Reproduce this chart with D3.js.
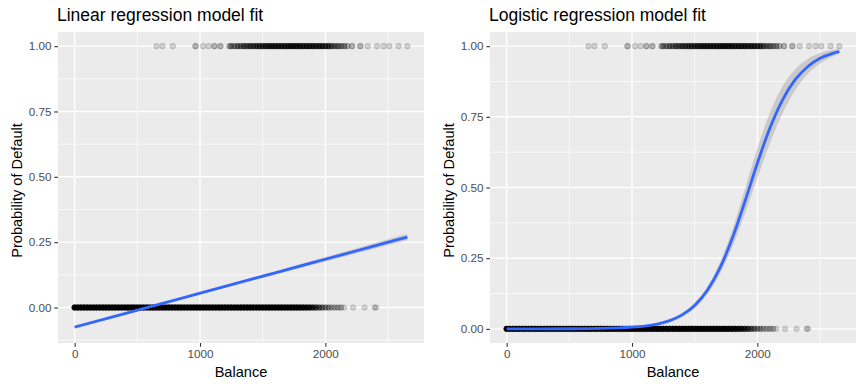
<!DOCTYPE html>
<html>
<head>
<meta charset="utf-8">
<script src="https://cdn.jsdelivr.net/npm/d3@7"></script>
<style>
  body { margin: 0; background: #fff; }
  svg text { font-family: "Liberation Sans", Arial, sans-serif; }
</style>
</head>
<body>
<div id="chart"></div>
<script>
// Data

// customers who defaulted (row at 1) - balance and how many observations sit on that spot
let default_balance = [653, 701, 783, 964, 1025, 1070, 1115, 1163, 1235,
    1250, 1275, 1300, 1325, 1350, 1375, 1400, 1425, 1450, 1475, 1500, 1525, 1550, 1575,
    1600, 1625, 1650, 1675, 1700, 1725, 1750, 1775, 1800, 1825, 1850, 1875, 1900, 1925,
    1950, 1975, 2000, 2025, 2050, 2075, 2100, 2125, 2150, 2175,
    2213, 2279, 2337, 2412, 2465, 2510, 2584, 2654];
let default_count = [1, 1, 1, 2, 1, 1, 2, 2, 2,
    3, 3, 4, 4, 5, 5, 6, 6, 7, 7, 7, 8, 8, 9,
    9, 9, 9, 9, 10, 10, 10, 10, 10, 9, 9, 9, 9, 8,
    8, 8, 7, 7, 5, 4, 4, 3, 3, 2,
    2, 2, 1, 1, 1, 1, 1, 1];

// customers who did not default (row at 0)
let nodefault_balance = [0, 25, 50, 75, 100, 125, 150, 175, 200, 225, 250, 275, 300, 325, 350,
    375, 400, 425, 450, 475, 500, 525, 550, 575, 600, 625, 650, 675, 700, 725, 750, 775,
    800, 825, 850, 875, 900, 925, 950, 975, 1000, 1025, 1050, 1075, 1100, 1125, 1150, 1175,
    1200, 1225, 1250, 1275, 1300, 1325, 1350, 1375, 1400, 1425, 1450, 1475, 1500, 1525,
    1550, 1575, 1600, 1625, 1650, 1675, 1700, 1725, 1750, 1775, 1800, 1825, 1850, 1875,
    1900, 1925, 1950, 1975, 2000, 2025, 2050, 2075, 2100, 2125, 2150,
    2221, 2313, 2393, 2404];
let nodefault_count = [499, 46, 51, 56, 61, 66, 72, 77, 83, 89, 96, 102, 109, 115, 121,
    128, 135, 142, 148, 154, 160, 166, 171, 176, 181, 185, 189, 192, 195, 197, 199, 200,
    200, 200, 199, 198, 196, 193, 190, 186, 182, 178, 173, 168, 162, 157, 150, 144,
    137, 131, 124, 118, 110, 104, 97, 92, 85, 79, 73, 68, 62, 57,
    52, 48, 43, 40, 35, 32, 29, 26, 23, 21, 18, 16, 14, 12,
    9, 7, 5, 4, 3, 3, 2, 2, 2, 2, 1,
    1, 1, 1, 1];

// linear fit with confidence band
let linear_balance = [0, 400, 835, 1200, 1600, 2000, 2400, 2654];
let linear_fit = [-0.0752, -0.0232, 0.0333, 0.0807, 0.1326, 0.1846, 0.2366, 0.2696];
let linear_lower = [-0.0818, -0.0276, 0.0300, 0.0766, 0.1264, 0.1760, 0.2254, 0.2568];
let linear_upper = [-0.0686, -0.0188, 0.0366, 0.0848, 0.1388, 0.1932, 0.2478, 0.2824];

// logistic fit with confidence band
let logistic_balance = [0, 250, 500, 750, 1000, 1100, 1200, 1300, 1400, 1500, 1600, 1700,
    1800, 1900, 2000, 2100, 2200, 2300, 2400, 2500, 2600, 2654];
let logistic_fit = [0.0000, 0.0001, 0.0004, 0.0015, 0.0058, 0.0099, 0.0171, 0.0292, 0.0496,
    0.0829, 0.1356, 0.2137, 0.3201, 0.4494, 0.5859, 0.7103, 0.8094, 0.8804, 0.9273,
    0.9568, 0.9745, 0.9810];
let logistic_lower = [0.0000, 0.0001, 0.0003, 0.0009, 0.0039, 0.0071, 0.0131, 0.0236, 0.0421,
    0.0729, 0.1221, 0.1937, 0.2891, 0.4059, 0.5332, 0.6566, 0.7620, 0.8433, 0.9003,
    0.9383, 0.9622, 0.9712];
let logistic_upper = [0.0000, 0.0001, 0.0005, 0.0021, 0.0077, 0.0127, 0.0211, 0.0348, 0.0571,
    0.0929, 0.1491, 0.2337, 0.3511, 0.4929, 0.6386, 0.7640, 0.8568, 0.9175, 0.9543,
    0.9753, 0.9868, 0.9908];

// ticks
let x_ticks = [0, 1000, 2000];
let x_minor = [-500, 500, 1500, 2500];
let y_ticks = [0, 0.25, 0.5, 0.75, 1];
let y_minor = [-0.125, 0.125, 0.375, 0.625, 0.875];

let titles = ['Linear regression model fit', 'Logistic regression model fit'];

// Canvas

let width = 864;
let height = 384;
let panel_w = 432;
let m = {left: 58, right: 8, top: 32, bottom: 41};

let svg = d3.select('#chart')
    .append('svg')
    .attr('width', width)
    .attr('height', height);

let points = [];
default_balance.forEach((b, i) => points.push({balance: b, row: 1, count: default_count[i]}));
nodefault_balance.forEach((b, i) => points.push({balance: b, row: 0, count: nodefault_count[i]}));

let expand = ext => {
    let pad = (ext[1] - ext[0]) * 0.05;
    return [ext[0] - pad, ext[1] + pad];
};

// Draw one ggplot style panel

let render_panel = (idx, fit_x, fit, lower, upper) => {
    let g = svg.append('g').attr('transform', `translate(${idx * panel_w},0)`);

    let x = d3.scaleLinear()
        .domain(expand([0, d3.max(points, d => d.balance)]))
        .range([m.left, panel_w - m.right]);

    let y = d3.scaleLinear()
        .domain(expand([Math.min(0, d3.min(lower)), 1]))
        .range([height - m.bottom, m.top]);

    let [x0, x1] = x.range();
    let [y0, y1] = y.range();

    g.append('rect')
        .attr('x', x0).attr('y', y1)
        .attr('width', x1 - x0).attr('height', y0 - y1)
        .attr('fill', '#EBEBEB');

    let in_x = v => v >= x.domain()[0] && v <= x.domain()[1];
    let in_y = v => v >= y.domain()[0] && v <= y.domain()[1];

    // grid lines
    g.selectAll('.gx-minor').data(x_minor.filter(in_x)).enter().append('line')
        .attr('x1', d => x(d)).attr('x2', d => x(d)).attr('y1', y0).attr('y2', y1)
        .attr('stroke', '#fff').attr('stroke-width', 0.7);
    g.selectAll('.gy-minor').data(y_minor.filter(in_y)).enter().append('line')
        .attr('y1', d => y(d)).attr('y2', d => y(d)).attr('x1', x0).attr('x2', x1)
        .attr('stroke', '#fff').attr('stroke-width', 0.7);
    g.selectAll('.gx-major').data(x_ticks).enter().append('line')
        .attr('x1', d => x(d)).attr('x2', d => x(d)).attr('y1', y0).attr('y2', y1)
        .attr('stroke', '#fff').attr('stroke-width', 1.4);
    g.selectAll('.gy-major').data(y_ticks).enter().append('line')
        .attr('y1', d => y(d)).attr('y2', d => y(d)).attr('x1', x0).attr('x2', x1)
        .attr('stroke', '#fff').attr('stroke-width', 1.4);

    // points, alpha 0.15 stacked by count
    g.append('g').selectAll('circle')
        .data(points)
        .enter()
        .append('circle')
        .attr('cx', d => x(d.balance))
        .attr('cy', d => y(d.row))
        .attr('r', 2.8)
        .attr('fill', '#000')
        .attr('fill-opacity', d => 1 - Math.pow(0.85, d.count))
        .attr('stroke', '#000')
        .attr('stroke-width', 0.8)
        .attr('stroke-opacity', d => 1 - Math.pow(0.85, d.count));

    // fit
    let band = fit_x.map((b, i) => ({b: b, lo: lower[i], hi: upper[i], f: fit[i]}));

    g.append('path')
        .datum(band)
        .attr('d', d3.area().x(d => x(d.b)).y0(d => y(d.lo)).y1(d => y(d.hi)).curve(d3.curveMonotoneX))
        .attr('fill', '#999999')
        .attr('fill-opacity', 0.4);

    g.append('path')
        .datum(band)
        .attr('d', d3.line().x(d => x(d.b)).y(d => y(d.f)).curve(d3.curveMonotoneX))
        .attr('fill', 'none')
        .attr('stroke', '#3366FF')
        .attr('stroke-width', 2.8);

    // axes
    let ax = g.append('g')
        .attr('transform', `translate(0,${y0})`)
        .call(d3.axisBottom(x).tickValues(x_ticks).tickFormat(d3.format('d')).tickSize(3.7).tickPadding(3));
    let ay = g.append('g')
        .attr('transform', `translate(${x0},0)`)
        .call(d3.axisLeft(y).tickValues(y_ticks).tickFormat(d3.format('.2f')).tickSize(3.7).tickPadding(2.9));

    [ax, ay].forEach(a => {
        a.select('.domain').remove();
        a.selectAll('line').attr('stroke', '#333333').attr('stroke-width', 1.1);
        a.selectAll('text').attr('fill', '#4D4D4D').attr('font-size', 11.7)
            .attr('font-family', '"Liberation Sans", Arial, sans-serif');
    });

    // labels
    g.append('text')
        .text(titles[idx])
        .attr('x', x0 - 1)
        .attr('y', 20.7)
        .attr('font-size', 17.5)
        .attr('fill', '#000');

    g.append('text')
        .text('Balance')
        .attr('x', (x0 + x1) / 2)
        .attr('y', 376.7)
        .attr('font-size', 14.6)
        .attr('text-anchor', 'middle')
        .attr('fill', '#000');

    g.append('text')
        .text('Probability of Default')
        .attr('transform', `translate(22,${(y0 + y1) / 2 + 3}) rotate(-90)`)
        .attr('font-size', 14.6)
        .attr('text-anchor', 'middle')
        .attr('fill', '#000');
};

render_panel(0, linear_balance, linear_fit, linear_lower, linear_upper);
render_panel(1, logistic_balance, logistic_fit, logistic_lower, logistic_upper);
</script>
</body>
</html>
